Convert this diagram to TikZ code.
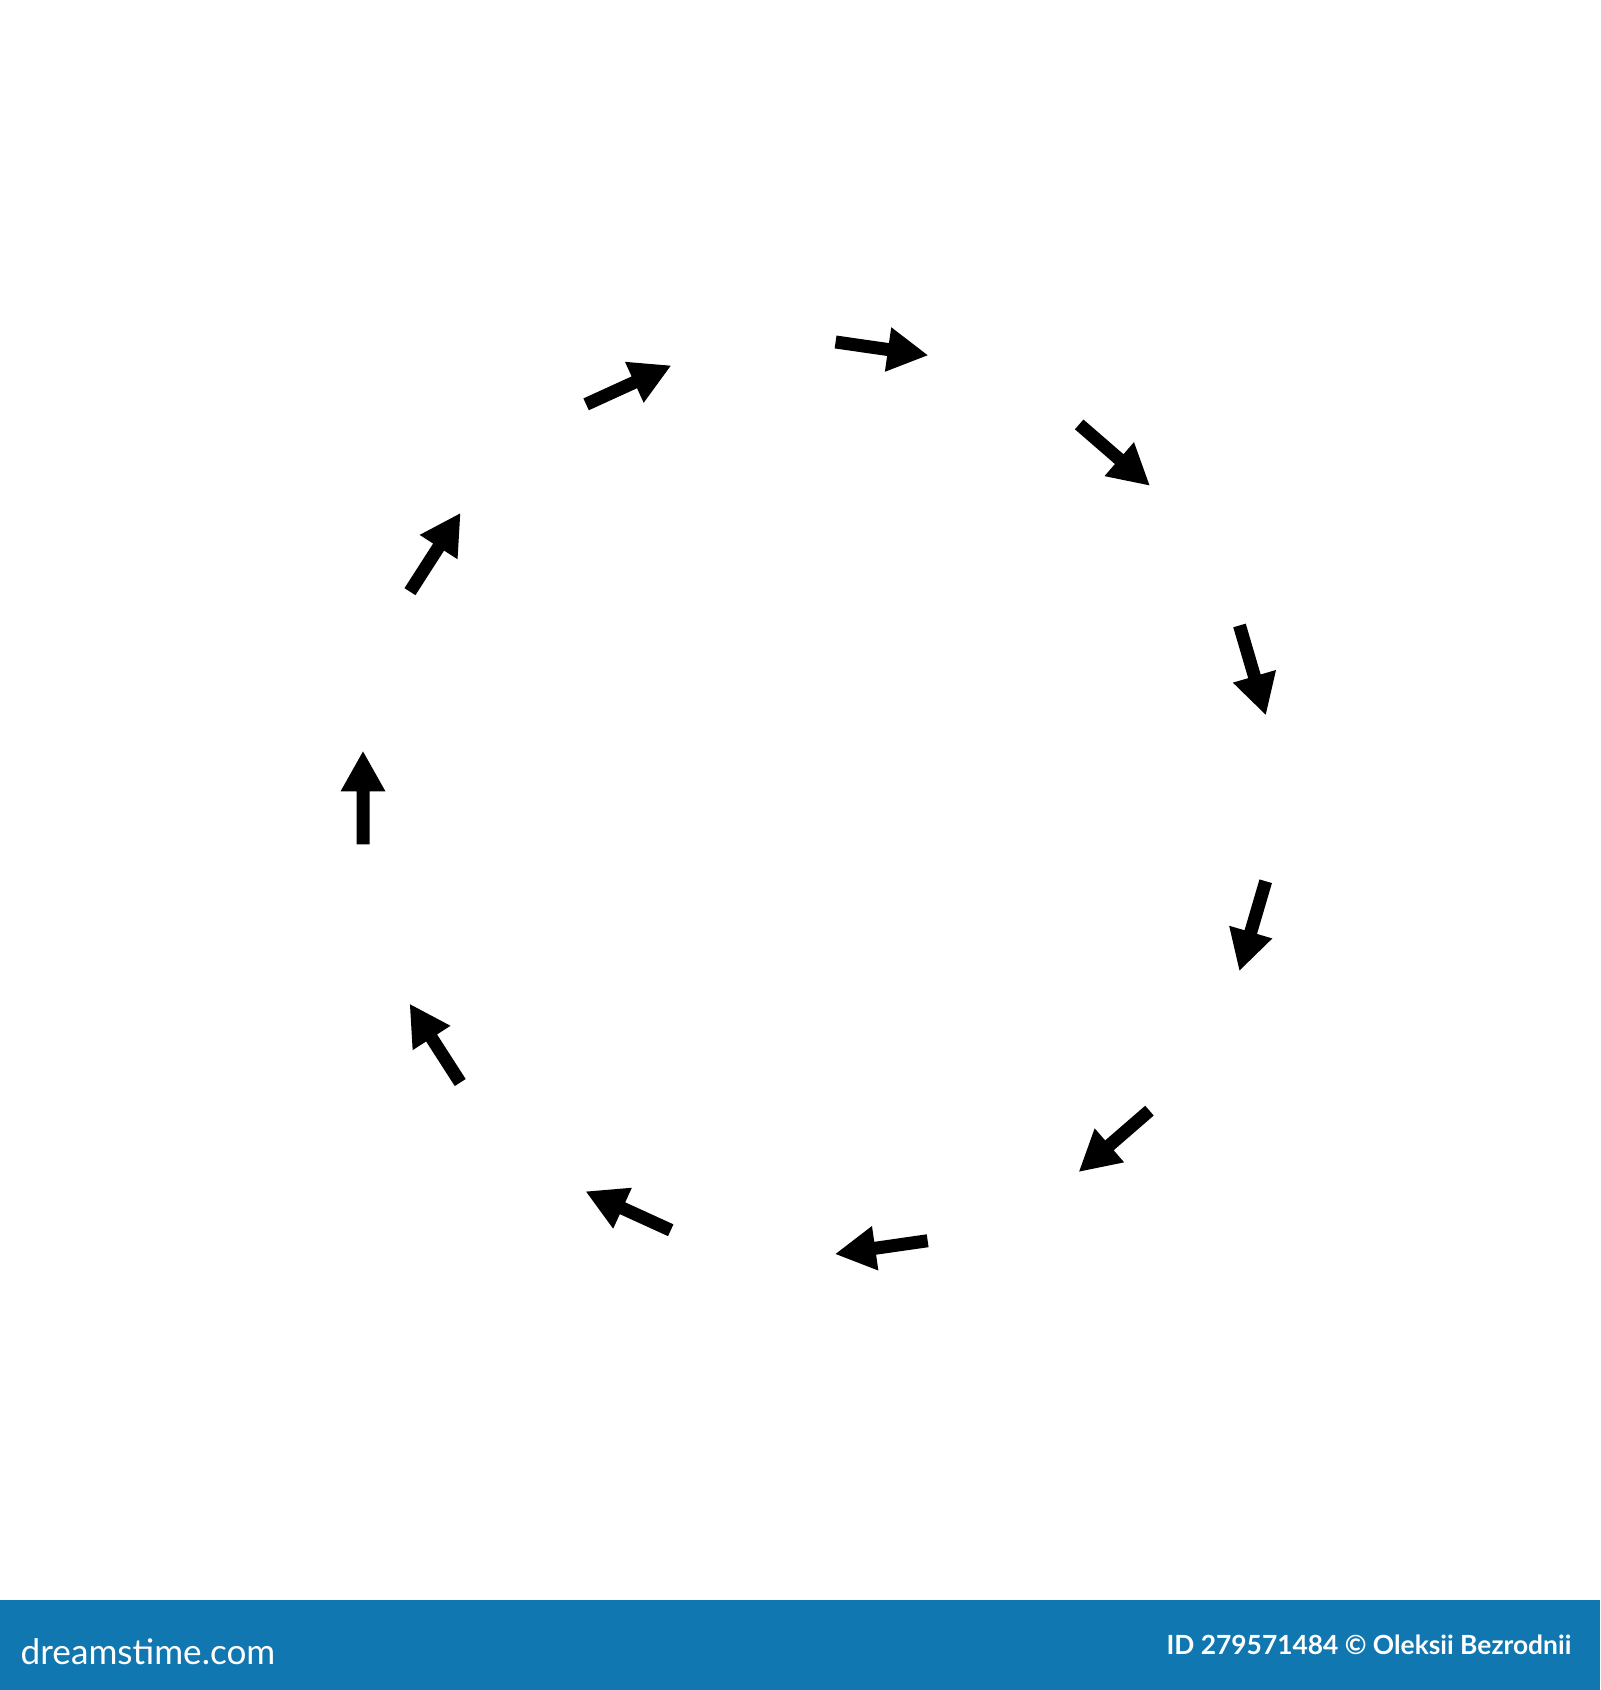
\documentclass[tikz,border=0pt]{standalone}
\usepackage{fontspec}
\newfontfamily\bannerfont{Lato}
\usetikzlibrary{calc}
\definecolor{dtblue}{RGB}{17,119,176}
\tikzset{
    ringarrow/.style={fill=black},
    bannertext/.style={text=white, inner sep=0pt, font=\bannerfont}
}

\begin{document}
\begin{tikzpicture}
\useasboundingbox (0,0) rectangle (16,16.9);

\coordinate (O) at (8.17,8.92);

% eleven arrows, turning clockwise
\foreach \k in {0,...,10}{
    \pgfmathsetmacro{\ang}{180-\k*360/11}
    \fill[ringarrow, shift={($(O)+(\ang:4.54)$)}, rotate=\ang-90]
        (-0.465,-0.065) -- (0.065,-0.065) -- (0.065,-0.225) -- (0.465,0)
        -- (0.065,0.225) -- (0.065,0.065) -- (-0.465,0.065) -- cycle;
}

% banner
\fill[dtblue] (0,0) rectangle (16,0.9);
\node[bannertext, anchor=west, font=\bannerfont\fontsize{10}{12}\selectfont] (site) at (0.2,0.38) {dreamstime.com};
\node[bannertext, anchor=east, font=\bannerfont\bfseries\fontsize{7.5}{9}\selectfont] (credit) at (15.72,0.45) {ID 279571484 © Oleksii Bezrodnii};
\end{tikzpicture}
\end{document}
